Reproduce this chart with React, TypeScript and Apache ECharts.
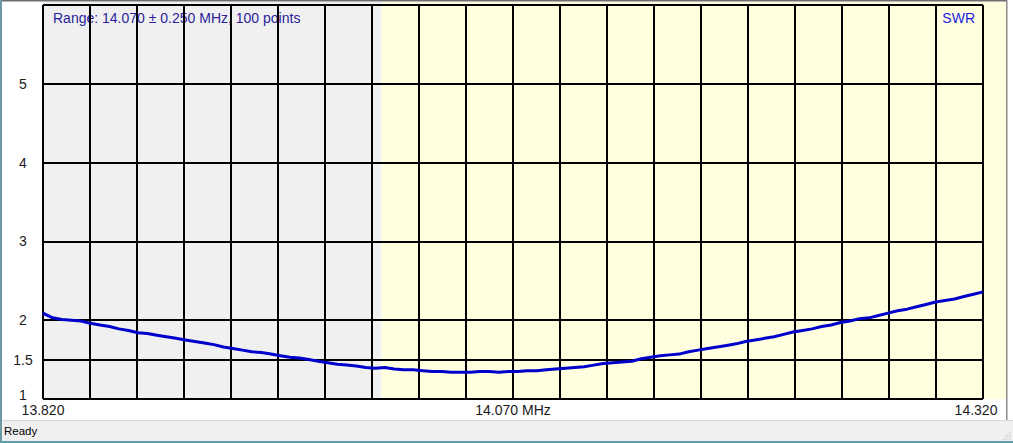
import React, { useEffect, useRef } from "react";
import * as echarts from "echarts";

// ---- data ----
const centerMHz = 14.07;
const halfSpanMHz = 0.25;
const pointCount = 100;
const bandEdgesMHz = [14.0, 14.35];

const swrValues = [
  2.09, 2.03, 2.01, 2.0, 1.99, 1.96, 1.94, 1.92, 1.89, 1.87,
  1.84, 1.83, 1.81, 1.79, 1.77, 1.75, 1.73, 1.71, 1.69, 1.66,
  1.64, 1.62, 1.6, 1.59, 1.57, 1.55, 1.53, 1.52, 1.5, 1.48,
  1.46, 1.44, 1.43, 1.42, 1.4, 1.39, 1.4, 1.38, 1.37, 1.37,
  1.36, 1.35, 1.35, 1.34, 1.34, 1.34, 1.35, 1.35, 1.34, 1.35,
  1.35, 1.36, 1.36, 1.37, 1.38, 1.39, 1.4, 1.41, 1.43, 1.45,
  1.46, 1.47, 1.48, 1.51, 1.53, 1.55, 1.56, 1.57, 1.6, 1.62,
  1.64, 1.66, 1.68, 1.7, 1.73, 1.75, 1.77, 1.79, 1.82, 1.85,
  1.87, 1.89, 1.92, 1.94, 1.97, 1.99, 2.02, 2.03, 2.06, 2.09,
  2.12, 2.14, 2.17, 2.2, 2.23, 2.25, 2.27, 2.3, 2.33, 2.36,
];

const yGridValues = [1, 1.5, 2, 3, 4, 5, 6];
const yTickLabels = [1, 1.5, 2, 3, 4, 5];
const xTickOffsetsKHz = [0, 250, 500];
const xTickLabels = ["13.820", "14.070 MHz", "14.320"];
const titleText = "Range: 14.070 ± 0.250 MHz, 100 points";
const seriesName = "SWR";

const FONT = "Arial, 'Liberation Sans', sans-serif";

export default function App() {
  const ref = useRef<HTMLDivElement>(null);

  useEffect(() => {
    if (!ref.current) return;
    const chart = echarts.init(ref.current, undefined, { renderer: "svg" });

    const startMHz = centerMHz - halfSpanMHz;
    const spanKHz = Math.round(2 * halfSpanMHz * 1000);
    const stepKHz = spanKHz / (pointCount - 1);
    const data = swrValues.map((v, i) => [i * stepKHz, v]);
    const toOffset = (mhz: number) => Math.round((mhz - startMHz) * 1000 * 1000) / 1000;

    chart.setOption({
      animation: false,
      backgroundColor: "#ffffff",
      grid: { left: 43, top: 5, right: 30, bottom: 44, show: false },
      xAxis: {
        type: "value",
        min: 0,
        max: spanKHz,
        interval: 25,
        axisLine: { show: false },
        axisTick: { show: false },
        splitLine: { show: true, lineStyle: { color: "#000000", width: 2 } },
        axisLabel: {
          margin: 4,
          fontSize: 14,
          fontFamily: FONT,
          color: "#1a1a1a",
          showMinLabel: true,
          showMaxLabel: true,
          formatter: (v: number) => {
            const idx = xTickOffsetsKHz.indexOf(Math.round(v));
            if (idx < 0) return "";
            if (idx === xTickOffsetsKHz.length - 1) return "{r|" + xTickLabels[idx] + "}";
            return xTickLabels[idx];
          },
          rich: {
            r: { fontSize: 14, fontFamily: FONT, color: "#1a1a1a", padding: [0, 14, 0, 0] },
          },
        },
      },
      yAxis: {
        type: "value",
        min: 1,
        max: 6,
        interval: 0.5,
        axisLine: { show: false },
        axisTick: { show: false },
        splitLine: { show: false },
        axisLabel: {
          align: "center",
          margin: 20,
          fontSize: 14,
          fontFamily: FONT,
          color: "#1a1a1a",
          showMinLabel: true,
          showMaxLabel: true,
          formatter: (v: number) => {
            if (!yTickLabels.includes(v)) return "";
            if (v === yTickLabels[0]) return "{b|" + v + "}";
            return String(v);
          },
          rich: {
            b: { fontSize: 14, fontFamily: FONT, color: "#1a1a1a", padding: [0, 0, 8, 0] },
          },
        },
      },
      graphic: [
        // band fills extending outside the plot
        { type: "rect", z: -10, silent: true, shape: { x: 43, y: 2, width: 339, height: 3 }, style: { fill: "#f0f0f0" } },
        { type: "rect", z: -10, silent: true, shape: { x: 382, y: 2, width: 624, height: 397 }, style: { fill: "#ffffe0" } },
        // frame
        { type: "rect", z: 10, silent: true, shape: { x: 0, y: 0, width: 1007, height: 1.5 }, style: { fill: "#6e6e6e" } },
        { type: "rect", z: 10, silent: true, shape: { x: 1006, y: 0, width: 1.5, height: 420 }, style: { fill: "#8a8a8a" } },
        { type: "rect", z: 10, silent: true, shape: { x: 0, y: 420, width: 1013, height: 21 }, style: { fill: "#f0f0f0" } },
        { type: "rect", z: 10, silent: true, shape: { x: 0, y: 420, width: 1013, height: 1 }, style: { fill: "#d7d7d7" } },
        { type: "rect", z: 11, silent: true, shape: { x: 0, y: 441, width: 1013, height: 2 }, style: { fill: "#5a9dab" } },
        { type: "rect", z: 11, silent: true, shape: { x: 0, y: 0, width: 2, height: 443 }, style: { fill: "#6b9aa5" } },
        { type: "line", z: 11, silent: true, shape: { x1: 1003, y1: 440, x2: 1011, y2: 432 }, style: { stroke: "#b0b0b0", lineWidth: 1, lineDash: [1, 1] } },
        { type: "line", z: 11, silent: true, shape: { x1: 1006, y1: 440, x2: 1011, y2: 435 }, style: { stroke: "#b0b0b0", lineWidth: 1, lineDash: [1, 1] } },
        { type: "line", z: 11, silent: true, shape: { x1: 1009, y1: 440, x2: 1011, y2: 438 }, style: { stroke: "#b0b0b0", lineWidth: 1, lineDash: [1, 1] } },
        {
          type: "text", z: 12, silent: true, x: 4, y: 431,
          style: { text: "Ready", fill: "#000000", font: "11.5px " + FONT, textVerticalAlign: "middle" },
        },
        // chart texts
        {
          type: "text", z: -1, silent: true, x: 53, y: 18,
          style: { text: titleText, fill: "#2a1f9c", font: "14px " + FONT, textVerticalAlign: "middle" },
        },
        {
          type: "text", z: -1, silent: true, x: 975, y: 18,
          style: { text: seriesName, fill: "#1d1de0", font: "14px " + FONT, textAlign: "right", textVerticalAlign: "middle" },
        },
      ],
      series: [
        {
          name: seriesName,
          type: "line",
          data,
          showSymbol: false,
          symbol: "none",
          smooth: false,
          z: 3,
          lineStyle: { color: "#0000cc", width: 3 },
          markArea: {
            z: -2,
            silent: true,
            label: { show: false },
            data: [
              [{ xAxis: 0, itemStyle: { color: "#f0f0f0" } }, { xAxis: toOffset(bandEdgesMHz[0]) }],
              [{ xAxis: toOffset(bandEdgesMHz[0]), itemStyle: { color: "#ffffe0" } }, { xAxis: spanKHz }],
            ],
          },
          markLine: {
            z: 1,
            silent: true,
            symbol: "none",
            label: { show: false },
            lineStyle: { color: "#000000", type: "solid", width: 2 },
            data: yGridValues.map((v) => ({ yAxis: v })),
          },
        },
      ],
    });

    return () => chart.dispose();
  }, []);

  return (
    <div
      ref={ref}
      style={{ position: "fixed", left: 0, top: 0, width: 1013, height: 443 }}
    />
  );
}
